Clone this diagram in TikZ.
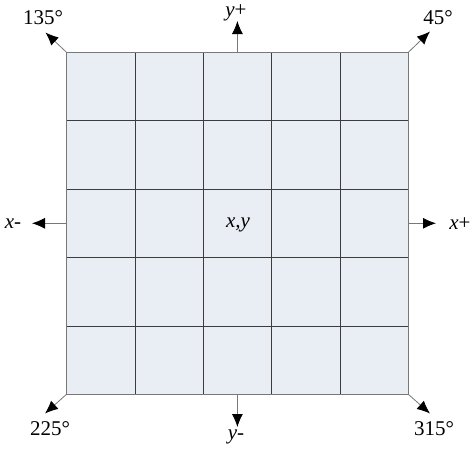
\documentclass[tikz,border=0pt]{standalone}
\usepackage{fontspec}
\setmainfont{Liberation Serif}
\usetikzlibrary{arrows.meta}
\definecolor{cellfill}{RGB}{233,238,244}
\definecolor{gridline}{RGB}{60,60,60}
\definecolor{edgeline}{RGB}{120,120,120}

\begin{document}
\begin{tikzpicture}[x=1pt,y=-1pt,font=\fontsize{21}{21}\selectfont,
  dirarrow/.style={draw=edgeline,line width=0.8pt,-{Latex[length=13pt,width=11pt,color=black]}},
  dirlabel/.style={inner sep=0pt}]
\useasboundingbox (0,0) rectangle (474,450);
% cells
\fill [cellfill] (66.5,52.3) rectangle (408.3,394.3);
\foreach \i in {1,...,4} {
  \draw [gridline,line width=0.6pt] (66.5+68.36*\i,52.3) -- (66.5+68.36*\i,394.3);
  \draw [gridline,line width=0.6pt] (66.5,52.3+68.4*\i) -- (408.3,52.3+68.4*\i);
}
\draw [edgeline,line width=0.8pt] (66.5,52.3) rectangle (408.3,394.3);
% arrow feet on the grid
\coordinate (nw) at (66.5,52.3);
\coordinate (ne) at (408.3,52.3);
\coordinate (sw) at (66.5,394.3);
\coordinate (se) at (408.3,394.3);
\coordinate (n) at (237.4,52.3);
\coordinate (s) at (237.4,394.3);
\coordinate (w) at (66.5,223.3);
\coordinate (e) at (408.3,223.3);
% arrow tips
\coordinate (tipnw) at (45.5,32.5);
\coordinate (tipne) at (430,31.5);
\coordinate (tipn) at (237.4,21);
\coordinate (tips) at (237.4,427);
\coordinate (tipw) at (32,223.3);
\coordinate (tipe) at (436,223.3);
\coordinate (tipsw) at (45,413.5);
\coordinate (tipse) at (430,413.5);
\draw [dirarrow] (nw) -- (tipnw);
\draw [dirarrow] (ne) -- (tipne);
\draw [dirarrow] (n) -- (tipn);
\draw [dirarrow] (s) -- (tips);
\draw [dirarrow] (w) -- (tipw);
\draw [dirarrow] (e) -- (tipe);
\draw [dirarrow] (sw) -- (tipsw);
\draw [dirarrow] (se) -- (tipse);
% labels
\node [dirlabel] (l135) at (43,18) {135°};
\node [dirlabel] (l45) at (438,18) {45°};
\node [dirlabel] (lyp) at (236,12.5) {\textit{y}+};
\node [dirlabel] (lym) at (236,437) {\textit{y}-};
\node [dirlabel] (lxm) at (13,224) {\textit{x}-};
\node [dirlabel] (lxp) at (460,224) {\textit{x}+};
\node [dirlabel] (l225) at (50,429) {225°};
\node [dirlabel] (l315) at (434,429) {315°};
\node [dirlabel] (lxy) at (238,225) {\textit{x,y}};
\end{tikzpicture}
\end{document}
